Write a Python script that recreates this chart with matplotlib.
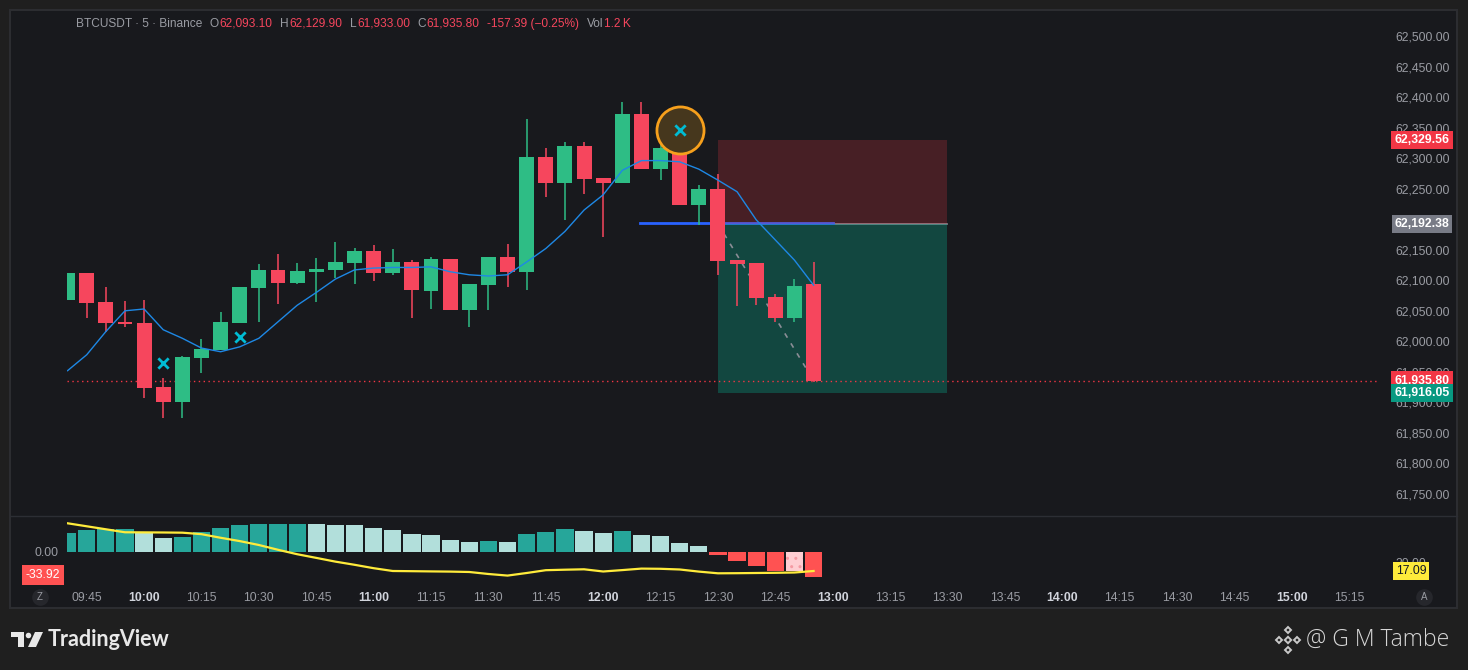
import numpy as np
import matplotlib
matplotlib.use("Agg")
import matplotlib.pyplot as plt
from matplotlib.patches import Rectangle, Polygon
from matplotlib.lines import Line2D
from matplotlib.transforms import blended_transform_factory

plt.rcParams['font.family'] = ['Liberation Sans', 'DejaVu Sans']

# ---- data (5 min candles from 09:40 to 12:55) ----
opens = [62068, 62112, 62064, 62032, 62030, 61925, 61901, 61973, 61986, 62030,
         62087, 62117, 62096, 62114, 62117, 62128, 62148, 62112, 62130, 62083,
         62135, 62051, 62092, 62138, 62114, 62302, 62259, 62320, 62267, 62259,
         62372, 62282, 62317, 62223, 62249, 62133, 62128, 62073, 62038, 62093.1]
highs = [62112, 62112, 62089, 62066, 62068, 61940, 61976, 62004, 62048, 62089,
         62127, 62143, 62128, 62136, 62163, 62153, 62158, 62151, 62133, 62138,
         62135, 62094, 62138, 62159, 62364, 62317, 62326, 62326, 62267, 62392,
         62392, 62340, 62323, 62256, 62274, 62133, 62128, 62078, 62102, 62129.9]
lows = [62068, 62039, 62016, 62024, 61907, 61874, 61874, 61948, 61986, 62030,
        62032, 62061, 62094, 62064, 62104, 62094, 62099, 62109, 62038, 62053,
        62051, 62024, 62051, 62089, 62084, 62236, 62199, 62241, 62171, 62259,
        62282, 62264, 62223, 62190, 62109, 62058, 62060, 62032, 62032, 61933.0]
closes = [62112, 62063, 62030, 62028, 61924, 61901, 61974, 61987, 62032, 62089,
          62117, 62096, 62115, 62118, 62130, 62148, 62112, 62130, 62084, 62135,
          62051, 62094, 62138, 62114, 62302, 62259, 62320, 62266, 62259, 62372,
          62282, 62317, 62223, 62249, 62132, 62127, 62071, 62038, 62091, 61935.8]
ma_line = [61952, 61978, 62016, 62050, 62053, 62019, 62005, 61989, 61983, 61991,
           62005, 62032, 62059, 62080, 62102, 62117, 62120, 62121, 62121, 62122,
           62114, 62109, 62107, 62109, 62130, 62152, 62180, 62215, 62240, 62280,
           62296, 62296, 62294, 62282, 62264, 62245, 62199, 62166, 62133, 62092]
hist = [24.8, 29.4, 30.4, 30.5, 24.8, 18.6, 20.4, 26.7, 32.2, 36.6,
        37.6, 37.7, 37.8, 37.6, 36.2, 36.0, 32.2, 29.4, 24.0, 22.7,
        15.9, 13.2, 14.5, 13.2, 24.0, 26.7, 30.8, 28.1, 25.4, 28.1,
        22.7, 21.3, 11.8, 7.7, -4.5, -12.6, -19.4, -26.2, -25.9, -33.92]
signal = [34.45, 33.36, 32.27, 31.18, 31.14, 31.10, 31.03, 30.49, 29.18, 27.97,
          26.55, 24.81, 23.20, 21.86, 20.50, 19.35, 18.11, 17.09, 17.02, 16.94,
          16.87, 16.73, 16.00, 15.42, 16.36, 17.38, 17.56, 17.71, 16.91, 17.42,
          17.96, 17.89, 17.64, 16.87, 16.25, 16.29, 16.36, 16.43, 16.54, 17.09]

price_ticks = [61750, 61800, 61850, 61900, 61950, 62000, 62050, 62100, 62150,
               62200, 62250, 62300, 62350, 62400, 62450, 62500]
time_labels = ['09:45', '10:00', '10:15', '10:30', '10:45', '11:00', '11:15', '11:30',
               '11:45', '12:00', '12:15', '12:30', '12:45', '13:00', '13:15', '13:30',
               '13:45', '14:00', '14:15', '14:30', '14:45', '15:00', '15:15']
time_pos = [1 + 3 * k for k in range(len(time_labels))]   # candle index of each label

stop_price = 62329.56
entry_price = 62192.38
target_price = 61916.05
last_close = 61935.80
pos_start, pos_end = 34, 46
entry_line_start, entry_line_end = 29.9, 40
signal_marks_x = [5, 9]
signal_marks_y = [61965, 62007]
circle_x, circle_y = 32, 62346

W, H = 1468, 670
BG = '#1f1f1f'
PANEL = '#18191d'
GREEN = '#2ebd85'
RED = '#f6465d'
TXT = '#9a9ca3'
FS = 8.8

fig = plt.figure(figsize=(W / 100, H / 100), dpi=100, facecolor=BG)


def px_axes(x0, y0, x1, y1):
    return fig.add_axes([x0 / W, 1 - y1 / H, (x1 - x0) / W, (y1 - y0) / H])


def fx(x):
    return x / W


def fy(y):
    return 1 - y / H


fig.add_artist(Rectangle((fx(10), fy(608)), fx(1447), (598) / H, transform=fig.transFigure,
                         facecolor=PANEL, edgecolor='#2c2d31', lw=1.5, zorder=0))
fig.add_artist(Line2D([fx(10), fx(1457)], [fy(516), fy(516)], color='#2c2e34', lw=1,
                      transform=fig.transFigure))

x = np.arange(len(opens))
o = np.array(opens); c = np.array(closes)
up = c >= o
cols = np.where(up, GREEN, RED)

# ---------------- main price pane ----------------
ax = px_axes(67, 10, 1380, 516)
ax.set_facecolor('none')
ax.set_xlim(-0.03, 68.61)
ax.set_ylim(61714, 62542.6)
for s in ax.spines.values():
    s.set_visible(False)
ax.set_xticks([])
ax.yaxis.tick_right()
ax.set_yticks(price_ticks)
ax.set_yticklabels([f'{p:,.2f}' for p in price_ticks])
ax.tick_params(axis='y', length=0, pad=11, labelsize=FS, labelcolor=TXT)

# position tool: lines first, then the translucent zones over them
ax.plot([pos_start, pos_end], [entry_price, entry_price], color='#8a8d96', lw=1.2, zorder=1)
ax.plot([entry_line_start, entry_line_end], [entry_price + 2, entry_price + 2],
        color='#2962ff', lw=2, zorder=1.5)
ax.add_patch(Rectangle((pos_start, entry_price), pos_end - pos_start, stop_price - entry_price,
                       facecolor=(0.95, 0.21, 0.27, 0.22), edgecolor='none', zorder=2))
ax.add_patch(Rectangle((pos_start, target_price), pos_end - pos_start, entry_price - target_price,
                       facecolor=(0.03, 0.6, 0.5, 0.36), edgecolor='none', zorder=2))
ax.plot([pos_start, x[-1]], [entry_price, closes[-1]], color='#8a8d96', lw=1.2,
        ls=(0, (3, 4)), zorder=2.5)

ax.axhline(last_close, color='#f23645', lw=1, ls=(0, (1, 2.5)), zorder=2)

ax.vlines(x, lows, highs, colors=cols, lw=1.1, zorder=3)
body = np.maximum(np.abs(c - o), 2.5)
ax.bar(x, body, bottom=np.minimum(o, c), width=0.78, color=cols, zorder=4)

ax.plot(x, ma_line, color='#1e88e5', lw=1, zorder=5)

ax.scatter([circle_x], [circle_y], s=1150, facecolor='#46371d', edgecolor='#f7a01c', lw=2, zorder=6)
ax.scatter(signal_marks_x + [circle_x], signal_marks_y + [circle_y], marker='x', s=55,
           color='#00bcd4', lw=2, zorder=7)

tr = blended_transform_factory(ax.transAxes, ax.transData)
lab_x = (1422 - 67) / 1313
for val, bg in [(stop_price, '#f23645'), (entry_price, '#787b86'),
                (last_close, '#f23645'), (target_price, '#089981')]:
    ax.text(lab_x, val, f'{val:,.2f}', transform=tr, ha='center', va='center', fontsize=FS,
            color='white', fontweight='bold', clip_on=False, zorder=10,
            bbox=dict(boxstyle='square,pad=0.25', fc=bg, ec='none'))

# header, laid out left to right
renderer = fig.canvas.get_renderer()
hy = fy(24)
groups = [[('BTCUSDT \u00b7 5 \u00b7 Binance', TXT)],
          [('O', TXT), ('62,093.10', RED)],
          [('H', TXT), ('62,129.90', RED)],
          [('L', TXT), ('61,933.00', RED)],
          [('C', TXT), ('61,935.80', RED)],
          [('-157.39 (\u22120.25%)', RED)],
          [('Vol', TXT), ('1.2\u2009K', RED)]]
px = 76
for segs in groups:
    for s, colr in segs:
        t = fig.text(fx(px), hy, s, color=colr, fontsize=8.6, ha='left', va='center')
        px += t.get_window_extent(renderer).width + 0.6
    px += 7

# ---------------- indicator pane ----------------
axi = px_axes(67, 516, 1380, 586)
axi.set_facecolor('none')
axi.set_xlim(-0.03, 68.61)
axi.set_ylim(-46.5, 48.4)
for s in axi.spines.values():
    s.set_visible(False)
hcols = []
for i, v in enumerate(hist):
    prev = hist[i - 1] if i > 0 else v - 1
    if v >= 0:
        hcols.append('#26a69a' if v > prev else '#b2dfdb')
    else:
        hcols.append('#ffcdd2' if v > prev else '#ff5252')
bars = axi.bar(x, hist, width=0.9, color=hcols, zorder=2)
for b, colr in zip(bars, hcols):
    if colr == '#ffcdd2':
        b.set_hatch('..')
        b.set_edgecolor('#f59aa3')
        b.set_linewidth(0)
axi.set_yticks([0])
axi.set_yticklabels(['0.00'])
axi.tick_params(axis='y', length=0, pad=6, labelsize=FS, labelcolor=TXT)
axi.set_xticks(time_pos)
axi.set_xticklabels(time_labels)
axi.tick_params(axis='x', length=0, pad=4, labelsize=FS, labelcolor=TXT)
for t in axi.get_xticklabels():
    if t.get_text().endswith(':00'):
        t.set_fontweight('bold')
        t.set_color('#d1d4dc')
tri = blended_transform_factory(axi.transAxes, axi.transData)
axi.text((43 - 67) / 1313, hist[-1] + 2.5, f'{hist[-1]:.2f}', transform=tri, ha='center',
         va='center', fontsize=FS, color='white', clip_on=False, zorder=10,
         bbox=dict(boxstyle='square,pad=0.3', fc='#ff5252', ec='none'))

ax2 = axi.twinx()
ax2.set_ylim(11.63, 37.1)
for s in ax2.spines.values():
    s.set_visible(False)
ax2.plot(x, signal, color='#ffeb3b', lw=1.6, zorder=3)
ax2.set_yticks([20])
ax2.set_yticklabels(['20.00'])
ax2.tick_params(axis='y', length=0, pad=11, labelsize=FS, labelcolor=TXT)
tr2 = blended_transform_factory(ax2.transAxes, ax2.transData)
ax2.text((1411 - 67) / 1313, signal[-1], f'{signal[-1]:.2f}', transform=tr2, ha='center',
         va='center', fontsize=FS, color='#131722', clip_on=False, zorder=10,
         bbox=dict(boxstyle='square,pad=0.25', fc='#ffeb3b', ec='none'))

# small round buttons
for cx, s in [(40, 'Z'), (1424, 'A')]:
    fig.add_artist(Line2D([fx(cx)], [fy(597)], marker='o', ms=12, mfc='#26272c', mec='none',
                          transform=fig.transFigure))
    fig.text(fx(cx), fy(597), s, color='#9a9ca3', fontsize=7, ha='center', va='center')

# ---------------- branding ----------------
logo = '#e8e8e8'
fig.add_artist(Polygon([(fx(11), fy(632)), (fx(24), fy(632)), (fx(24), fy(647)), (fx(18), fy(647)),
                        (fx(18), fy(637)), (fx(11), fy(637))], closed=True,
                       transform=fig.transFigure, facecolor=logo, edgecolor='none'))
fig.add_artist(Line2D([fx(28.5)], [fy(634.5)], marker='o', ms=4, mfc=logo, mec='none',
                      transform=fig.transFigure))
fig.add_artist(Polygon([(fx(35), fy(632)), (fx(43), fy(632)), (fx(36), fy(647)), (fx(28), fy(647))],
                       closed=True, transform=fig.transFigure, facecolor=logo, edgecolor='none'))
fig.text(fx(48), fy(640), 'TradingView', color=logo, fontsize=15.5, fontweight='bold',
         ha='left', va='center', family=['Lato', 'DejaVu Sans'])

bn = '#c8c8c8'
for cx, cy, r in [(1288, 640, 3.2), (1288, 630, 3), (1288, 650, 3), (1279, 640, 3), (1297, 640, 3)]:
    fig.add_artist(Polygon([(fx(cx - r), fy(cy)), (fx(cx), fy(cy - r)), (fx(cx + r), fy(cy)),
                            (fx(cx), fy(cy + r))], closed=True, transform=fig.transFigure,
                           facecolor='none', edgecolor=bn, lw=1.4))
fig.text(fx(1306), fy(640), '@ G M Tambe', color='#d6d6d6', fontsize=16.5, ha='left', va='center',
         family=['Open Sans', 'DejaVu Sans'], fontweight='light')

fig.savefig('out.png', dpi=100, facecolor=BG)
